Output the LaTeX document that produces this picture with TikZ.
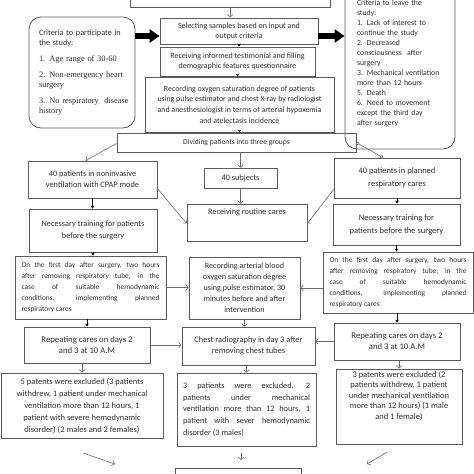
\documentclass[tikz,border=0pt]{standalone}
\usepackage{fontspec}
\setmainfont{Carlito}
\newfontfamily\timesf{Liberation Serif}
\usetikzlibrary{arrows.meta}
\definecolor{bord}{HTML}{5A5A5A}
\definecolor{txt}{HTML}{2E2E2E}
\definecolor{arr}{HTML}{6A6A6A}
\tikzset{
 box/.style={draw=bord, line width=0.8pt, text=txt, inner sep=1pt, align=center, font=\fontsize{8}{10}\selectfont},
 rbox/.style={box, rounded corners=12pt},
 garrow/.style={draw=arr, line width=0.6pt, -{Straight Barb[length=2.5pt,width=5.5pt]}},
 barrow/.style={draw=black, line width=0.6pt, -{Stealth[length=3pt,width=3.5pt]}},
 circarrow/.style={draw=arr, line width=0.6pt, {Circle[open,length=3.5pt]}-{Circle[open,length=3.5pt]}},
 thickarrow/.style={draw=black, line width=6pt, -{Triangle[length=10pt,width=13pt]}},
}
\newcommand\tms[1]{{\timesf\fontsize{8.4}{10}\selectfont\mbox{#1}}}
\begin{document}
\begin{tikzpicture}[x=1pt,y=-1pt]
\useasboundingbox (0,0) rectangle (474,474);
\clip (0,0) rectangle (474,474);
% top column
\node[box, minimum width=200pt, minimum height=27pt] (top) at (230,-6.5) {};
\node[box, minimum width=158pt, minimum height=26pt] (sel) at (239,31) {Selecting samples based on input and\\output criteria};
\node[box, minimum width=155pt, minimum height=29pt] (recv) at (237.5,61.5) {Receiving informed testimonial and filling\\demographic features questionnaire};
\node[box, minimum width=189pt, minimum height=55pt, font=\fontsize{7.9}{10.7}\selectfont] (recox) at (239.5,104.5) {Recording oxygen saturation degree of patients\\using pulse estimator and chest X-ray by radiologist\\and anesthesiologist in terms of arterial hypoxemia\\and atelectasis incidence};
% criteria
\node[rbox, minimum width=106pt, minimum height=111pt, align=left, text width=86pt, font=\fontsize{8.2}{10}\selectfont] (critL) at (82,72.5) {Criteria to participate in\\the study:\\[6pt]\tms{1. Age range of 30-60}\\[6pt]\tms{2. Non-emergency heart}\\\tms{surgery}\\[6pt]\tms{3. No respiratory\ \ disease}\\\tms{history}};
\node[rbox, minimum width=110pt, minimum height=171pt, align=left, text width=86pt, font=\fontsize{7.8}{10}\selectfont] (critR) at (400,63.5) {Criteria to leave the\\study:\\1. Lack of interest to\\continue the study\\2. Decreased\\consciousness\ \ after\\surgery\\\mbox{3. Mechanical ventilation}\\more than 12 hours\\5. Death\\6. Need to movement\\except the third day\\after surgery};
% groups
\node[box, minimum width=239pt, minimum height=19pt, font=\fontsize{7.6}{9}\selectfont] (div) at (236.5,142.5) {Dividing patients into three groups};
\node[box, minimum width=129pt, minimum height=37pt, font=\fontsize{8.3}{11}\selectfont] (gL) at (92.5,179.5) {40 patients in noninvasive\\ventilation with CPAP mode};
\node[box, minimum width=73pt, minimum height=20pt, font=\fontsize{8.3}{11}\selectfont] (gC) at (240.5,178) {40 subjects};
\node[box, minimum width=126pt, minimum height=40pt, font=\fontsize{8.5}{13}\selectfont] (gR) at (397,178) {40 patients in planned\\respiratory cares};
\node[box, minimum width=120pt, minimum height=37pt, font=\fontsize{8.3}{10}\selectfont] (routine) at (247,222.5) {Receiving routine cares\\[9pt]\strut};
\node[box, minimum width=128pt, minimum height=43pt, font=\fontsize{8.3}{12}\selectfont] (tL) at (93,230.5) {Necessary training for patients\\before the surgery};
\node[box, minimum width=127pt, minimum height=41pt, font=\fontsize{8.5}{13}\selectfont] (tR) at (396.5,224.5) {Necessary training for\\patients before the surgery};
% first day
\node[box, minimum width=151pt, minimum height=63pt, text width=138pt, align=justify, font=\fontsize{7.4}{11}\selectfont] (fL) at (90.5,287.5) {On the first day after surgery, two hours\linebreak after removing respiratory tube, in the\linebreak case of suitable hemodynamic\linebreak conditions, implementing planned\linebreak respiratory cares};
\node[box, minimum width=150pt, minimum height=61pt, text width=137pt, align=justify, font=\fontsize{7.4}{11}\selectfont] (fR) at (398,282.5) {On the first day after surgery, two hours\linebreak after removing respiratory tube, in the\linebreak case of suitable hemodynamic\linebreak conditions, implementing planned\linebreak respiratory cares};
\node[box, minimum width=111pt, minimum height=62pt, font=\fontsize{8.1}{11}\selectfont] (ra) at (244.5,288) {Recording arterial blood\\oxygen saturation degree\\using pulse estimator, 30\\minutes before and after\\intervention};
% repeating
\node[box, minimum width=126pt, minimum height=36pt, font=\fontsize{8.7}{11}\selectfont] (rL) at (87,345) {Repeating cares on days 2\\and 3 at 10 A.M};
\node[box, minimum width=126pt, minimum height=37pt, font=\fontsize{8.7}{11}\selectfont] (rR) at (397,341.5) {Repeating cares on days 2\\and 3 at 10 A.M};
\node[box, minimum width=133pt, minimum height=38pt, font=\fontsize{8.4}{11.5}\selectfont] (chest) at (248.5,346) {Chest radiography in day 3 after\\removing chest tubes};
% excluded
\node[box, minimum width=162pt, minimum height=65pt, font=\fontsize{8.5}{12}\selectfont] (exL) at (82,405.5) {5 patents were excluded (3 patients\\withdrew, 1 patient under mechanical\\ventilation more than 12 hours, 1\\patient with severe hemodynamic\\disorder) (2 males and 2 females)};
\node[box, minimum width=139pt, minimum height=73pt, text width=127pt, align=justify, font=\fontsize{8.3}{11.75}\selectfont] (exC) at (246.5,409.5) {3 patients were excluded, 2\linebreak patients under mechanical\linebreak ventilation more than 12 hours, 1\linebreak patient with sever hemodynamic\linebreak disorder (3 males)};
\node[box, minimum width=126pt, minimum height=75pt, font=\fontsize{8.5}{10.5}\selectfont] (exR) at (399,406.5) {3 patents were excluded (2\\patients withdrew, 1 patient\\under mechanical ventilation\\more than 12 hours) (1 male\\and 1 female)\\[9pt]\strut};
\node[box, minimum width=126pt, minimum height=22pt] (bot) at (238,479) {};
% connectors
\draw[garrow] (top.south) -- (top.south |- sel.north);
\draw[barrow] (sel.south) -- (sel.south |- recv.north);
\draw[barrow] (recv.south) -- (recv.south |- recox.north);
\draw[barrow] (recox.south) -- (recox.south |- div.north);
\coordinate (thL) at ([yshift=-5pt]sel.west);
\coordinate (thR) at ([yshift=-5pt]sel.east);
\draw[thickarrow] (thL -| critL.east) -- (thL);
\draw[thickarrow] (thR) -- (thR -| critR.west);
\draw[garrow] ([yshift=-1pt]div.west) -- ([xshift=-7pt]gL.north);
\draw[garrow] (div.south -| gC.north) -- (gC.north);
\draw[circarrow] (div.east) -- ([xshift=-14pt]gR.north);
\draw[barrow] (gL.south) -- (gL.south |- tL.north);
\draw[barrow] (gR.south) -- (gR.south |- tR.north);
\draw[garrow] (gC.south) -- (gC.south |- routine.north);
\draw[garrow] ([yshift=10pt]gL.south east) -- ([yshift=-1pt]routine.west);
\draw[garrow] ([yshift=9pt]gR.south west) -- ([yshift=-1pt]routine.east);
\draw[barrow] (tL.south) -- (tL.south |- fL.north);
\draw[barrow] (tR.south) -- (tR.south |- fR.north);
\draw[garrow] (fL.east) -- (fL.east -| ra.west);
\draw[garrow] (ra.east -| fR.west) -- (ra.east);
\draw[barrow] (fL.south -| rL.north) -- (rL.north);
\draw[barrow] (fR.south -| rR.north) -- (rR.north);
\draw[garrow] (ra.south) -- (ra.south |- chest.north);
\draw[garrow] (rL.east) -- (rL.east -| chest.west);
\draw[garrow] (rR.west) -- (rR.west -| chest.east);
\draw[garrow] (rL.south -| exL.north) -- (exL.north);
\draw[garrow] (chest.south -| exC.north) -- (exC.north);
\draw[garrow] (rR.south -| exR.north) -- (exR.north);
\coordinate (b1s) at (83,453); \coordinate (b1e) at (115,464);
\coordinate (b2s) at (241,453); \coordinate (b2e) at (241,460);
\coordinate (b3s) at (387,452); \coordinate (b3e) at (367,464);
\draw[garrow] (b1s) -- (b1e);
\draw[garrow] (b2s) -- (b2e);
\draw[garrow] (b3s) -- (b3e);
\end{tikzpicture}
\end{document}
